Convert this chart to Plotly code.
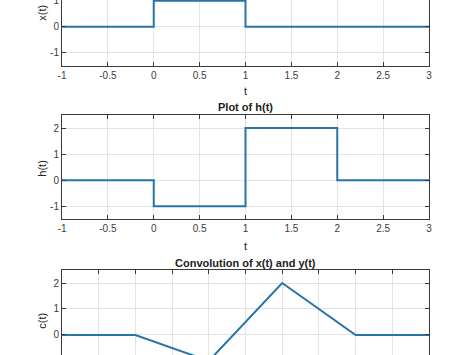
import plotly.graph_objects as go

# ---- data ----
t_x = [-1, 0, 0, 1, 1, 3]
x_vals = [0, 0, 1, 1, 0, 0]

t_h = [-1, 0, 0, 1, 1, 2, 2, 3]
h_vals = [0, 0, -1, -1, 2, 2, 0, 0]

t_c = [-1, 0, 1, 4/3, 2, 3, 4]
c_vals = [0, 0, -1, 0, 2, 0, 0]

x_ticks_12 = [-1, -0.5, 0, 0.5, 1, 1.5, 2, 2.5, 3]
x_ticklabels_12 = ["-1", "-0.5", "0", "0.5", "1", "1.5", "2", "2.5", "3"]
x_ticks_3 = [-1, -0.5, 0, 0.5, 1, 1.5, 2, 2.5, 3, 3.5, 4]
y_ticks = [-1, 0, 1, 2]

titles = ["Plot of h(t)", "Convolution of x(t) and y(t)"]
ylabels = ["x(t)", "h(t)", "c(t)"]
xlabel = "t"

# ---- layout helpers ----
W, H = 474, 355
ML, MR = 62, 45
PW = W - ML - MR

def py(p):
    return 1 - p / H

def px(p):
    return (p - ML) / PW

LINE = "#2774a6"
AX = "#3a3a3a"
GRID = "#e3e3e3"
FONT = "Liberation Sans, Arial, sans-serif"
TXT = "#3c3c3c"

fig = go.Figure()
fig.add_trace(go.Scatter(x=t_x, y=x_vals, mode="lines", line=dict(color=LINE, width=2), xaxis="x", yaxis="y"))
fig.add_trace(go.Scatter(x=t_h, y=h_vals, mode="lines", line=dict(color=LINE, width=2), xaxis="x2", yaxis="y2"))
fig.add_trace(go.Scatter(x=t_c, y=c_vals, mode="lines", line=dict(color=LINE, width=2), xaxis="x3", yaxis="y3"))

common_x = dict(showgrid=True, gridcolor=GRID, gridwidth=1, zeroline=False,
                showline=True, linecolor=AX, linewidth=1, ticks="inside", ticklen=4,
                tickcolor=AX, tickfont=dict(size=10, color=TXT, family=FONT),
                automargin=False, ticklabeloverflow="allow")
common_y = dict(showgrid=True, gridcolor=GRID, gridwidth=1, zeroline=False,
                showline=True, linecolor=AX, linewidth=1, ticks="inside", ticklen=4,
                tickcolor=AX, tickfont=dict(size=10, color=TXT, family=FONT),
                mirror="ticks", automargin=False, tickvals=y_ticks,
                ticktext=[str(v) for v in y_ticks], ticklabeloverflow="allow")

fig.update_layout(
    width=W, height=H, template="none",
    paper_bgcolor="white", plot_bgcolor="white",
    margin=dict(l=ML, r=MR, t=0, b=0, pad=0),
    showlegend=False,
    xaxis=dict(common_x, domain=[0, 1], range=[-1, 3], anchor="y",
               tickvals=x_ticks_12, ticktext=x_ticklabels_12, mirror=False),
    yaxis=dict(common_y, domain=[py(65.7), 1], range=[-1.5, 1.03], anchor="x"),
    xaxis2=dict(common_x, domain=[0, 1], range=[-1, 3], anchor="y2",
                tickvals=x_ticks_12, ticktext=x_ticklabels_12, mirror="ticks"),
    yaxis2=dict(common_y, domain=[py(219.3), py(115)], range=[-1.5, 2.5], anchor="x2"),
    xaxis3=dict(common_x, domain=[0, 1], range=[-1, 4], anchor="y3", side="top",
                tickvals=x_ticks_3, showticklabels=False, mirror=False),
    yaxis3=dict(common_y, domain=[0, py(270)], range=[-0.77, 2.5], anchor="x3"),
)

ann = []
def label(text, x, y, angle=0, bold=False, size=11):
    ann.append(dict(text=("<b>%s</b>" % text) if bold else text, x=x, y=y,
                    xref="paper", yref="paper", showarrow=False, textangle=angle,
                    xanchor="center", yanchor="middle",
                    font=dict(size=size, color="#222222", family=FONT)))

label(xlabel, 0.5, py(90.7))
label(xlabel, 0.5, py(246))
label(titles[0], 0.5, py(107.3), bold=True)
label(titles[1], 0.5, py(262.7), bold=True)
label(ylabels[0], px(41.7), py(13), angle=-90)
label(ylabels[1], px(41.7), py(168), angle=-90)
label(ylabels[2], px(41.7), py(321), angle=-90)
fig.update_layout(annotations=ann)

fig.write_html("out.html", config={"displayModeBar": False},
               post_script="document.body.style.margin='0';document.body.style.overflow='hidden';")
